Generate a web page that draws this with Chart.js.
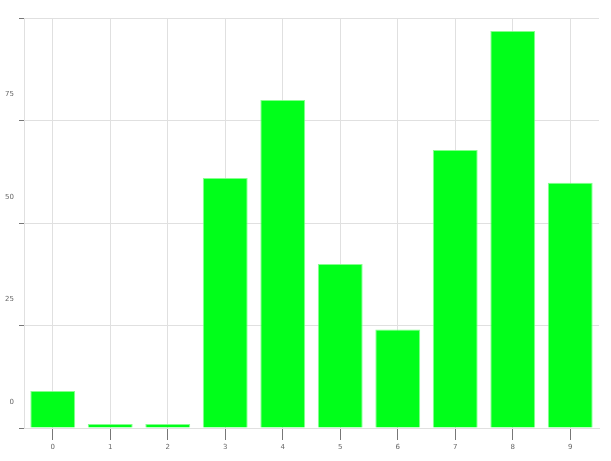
<!DOCTYPE html>
<html>
<head>
<meta charset="utf-8">
<script src="https://cdn.jsdelivr.net/npm/chart.js@4"></script>
<style>
  html, body { margin:0; padding:0; background:#fff; }
  #wrap { width:611px; height:461px; }
</style>
</head>
<body>
<div id="wrap"><canvas id="chart" width="611" height="461"></canvas></div>
<script>
// values
const categories = ['0','1','2','3','4','5','6','7','8','9'];
const values = [9, 1, 1, 61, 80, 40, 24, 67.8, 96.8, 59.8];
const yTicks = [0, 25, 50, 75, 100];

const BAR_FILL = '#00ff1a';
const BAR_EDGE = 'rgba(120,255,130,0.9)';

new Chart(document.getElementById('chart'), {
  type:'bar',
  data:{
    labels:categories,
    datasets:[{
      data:values,
      backgroundColor:BAR_FILL,
      borderColor:BAR_EDGE,
      borderWidth:1,
      barPercentage:1,
      categoryPercentage:0.78
    }]
  },
  options:{
    responsive:false,
    animation:false,
    layout:{ padding:{ top:18, right:12, left:0, bottom:0 } },
    plugins:{ legend:{ display:false }, tooltip:{ enabled:false } },
    scales:{
      x:{
        grid:{ offset:false, color:'#e0e0e0', tickColor:'#777', tickLength:12 },
        border:{ color:'#e0e0e0' },
        ticks:{ color:'#666', font:{ family:'DejaVu Sans', size:7 }, padding:3, maxRotation:0 },
        afterFit: s => { s.height = 33; }
      },
      y:{
        min:0, max:100,
        afterBuildTicks: s => { s.ticks = yTicks.map(v => ({ value:v })); },
        grid:{ color:'#e0e0e0', tickColor:'#777', tickLength:5 },
        border:{ color:'#e0e0e0' },
        ticks:{ color:'#666', font:{ family:'DejaVu Sans', size:7 }, padding:5, labelOffset:-26 },
        afterFit: s => { s.width = 24; }
      }
    }
  }
});
</script>
</body>
</html>
